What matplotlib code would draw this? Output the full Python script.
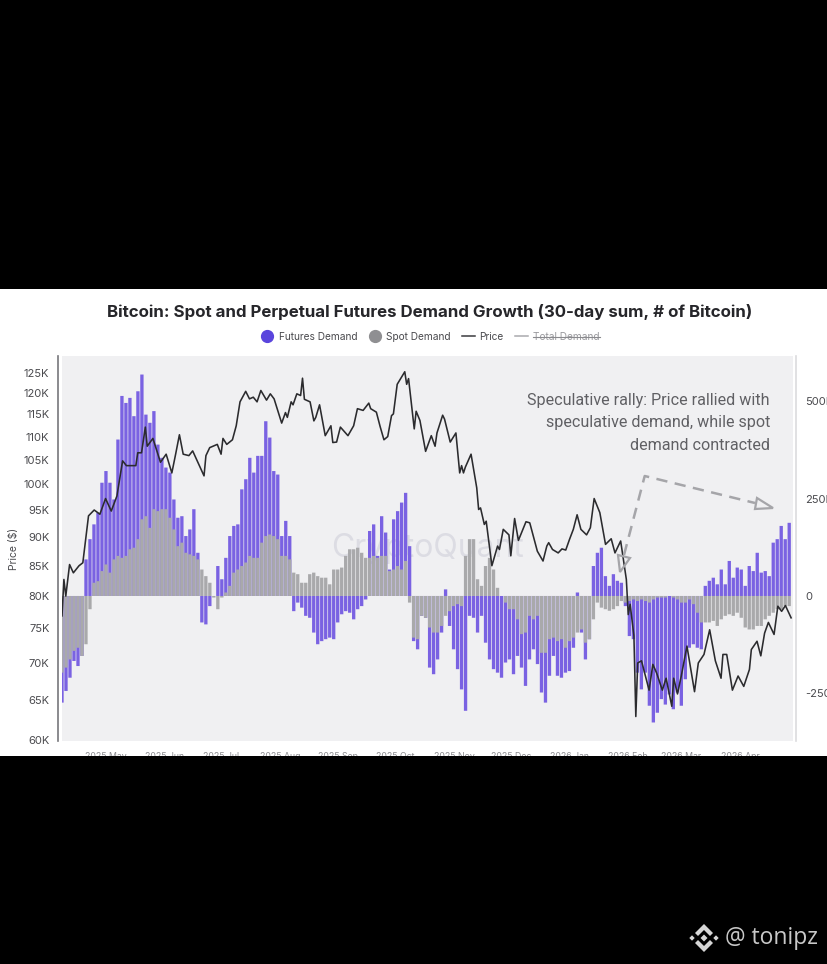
import numpy as np
import pandas as pd
import matplotlib
matplotlib.use("Agg")
import matplotlib.pyplot as plt
from matplotlib.lines import Line2D
from matplotlib.patches import Rectangle, Polygon
from matplotlib.transforms import Affine2D

plt.rcParams['font.family'] = ['Inter', 'DejaVu Sans']

title = "Bitcoin: Spot and Perpetual Futures Demand Growth (30-day sum, # of Bitcoin)"
note = "Speculative rally: Price rallied with\nspeculative demand, while spot\ndemand contracted"
series_names = ["Futures Demand", "Spot Demand", "Price", "Total Demand"]
start_date = pd.Timestamp("2025-04-08")
end_date = pd.Timestamp("2026-04-29")
bar_span_days = 384

# thousands of BTC, one reading about every two days
futures = [-274,-244,-210,-167,-180,-154,94,146,184,214,291,321,291,248,402,514,496,509,462,526,569,466,445,475,389,355,330,317,248,201,205,154,171,223,111,-68,-73,-26,0,77,43,98,154,180,184,274,300,355,317,360,360,449,407,
           321,312,154,193,154,-39,-17,-30,-51,-56,-94,-124,-116,-111,-107,-111,-68,-47,-39,-43,-60,-34,-26,-9,167,184,103,205,163,68,197,218,240,265,128,-116,-137,-51,-56,-184,-201,-163,-94,17,-77,-137,-188,-240,-295,-51,-56,-94,-51,-120,-163,-188,-197,-210,-171,-163,-201,-154,-184,-231,-163,-137,-175,-248,-274,
           -205,-154,-205,-210,-197,-193,-133,9,-94,-163,-111,77,111,124,51,26,56,39,34,-26,-103,-111,-197,-240,-197,-282,-325,-300,-265,-279,-253,-291,-248,-282,-214,-133,-124,-133,-137,26,39,47,30,68,30,90,47,73,68,26,77,64,111,60,64,51,137,146,180,146,188]
spot = [-197,-184,-163,-141,-133,-154,-124,-34,34,38,64,81,60,94,103,98,103,120,124,146,197,205,175,223,218,223,223,201,171,128,137,111,107,103,94,68,51,34,-4,-34,-4,9,26,60,68,77,86,103,98,98,137,154,
        158,154,146,103,103,94,60,56,34,34,56,60,51,47,47,30,68,68,73,103,120,120,124,111,98,98,103,98,103,103,64,68,77,68,90,-17,-107,-111,-51,-56,-81,-94,-94,-77,-51,-39,-26,-21,-26,103,146,146,43,26,77,98,68,21,0,-17,-34,-34,-60,-98,-94,-51,-60,-51,-146,-146,
        -111,-107,-116,-111,-133,-116,-107,-94,-86,-120,-111,-60,-17,-30,-34,-38,-34,-26,-13,-17,-13,-9,-13,-9,-13,-17,-9,-4,-4,-4,0,-4,-9,-17,-17,-9,-21,-43,-68,-68,-68,-64,-77,-60,-51,-47,-51,-43,-56,-81,-86,-86,-77,-77,-60,-51,-43,-34,-34,-26,-26]

price_day = [0,1,2,4,6,9,11,14,17,20,23,26,29,32,34,39,40,42,44,45,48,52,55,58,60,62,64,67,69,75,76,78,82,84,85,87,90,92,94,97,99,101,103,105,108,110,
             112,116,118,119,121,122,124,126,127,128,131,133,134,136,139,142,143,145,147,151,154,156,159,162,163,166,168,170,172,174,175,177,181,182,183,186,187,189,192,195,197,198,201,202,205,208,210,211,212,213,216,219,220,221,223,224,227,230,231,233,236,237,239,241,245,247,251,254,256,257,
             259,262,264,266,268,270,272,274,277,279,281,284,287,290,292,295,298,299,300,302,303,304,306,310,312,314,317,319,322,323,325,327,330,334,336,339,342,345,348,349,351,354,357,360,363,364,367,369,371,373,376,378,380,382,385]
price = [76.9,82.7,80,85.2,83.8,85,85.5,93.9,95,94.2,97.2,94.8,97.7,104.8,103.8,103.8,106.5,106.5,112.1,107.9,109.6,104.5,106.2,102.3,106.2,110.4,106.2,105.9,106.9,101.7,105.9,107.6,108.3,106.2,109.6,108.3,109.3,112.4,117.9,120.4,118.6,119,117.9,120.6,118.3,119.8,
         118.6,113,115.4,114.3,117.9,117.2,119.8,119.4,123.6,118.5,117.9,113.5,114.3,117.2,110.2,112.4,108.7,108.8,112.1,110.2,112.4,116.3,115.9,117.6,116.3,115.5,112.2,109.3,110,114.7,115.1,122.1,125.2,122.1,123.5,111.7,115.7,113.6,106.8,110.2,107.9,110.8,114.8,113.9,108.8,110.8,102.3,103.8,102.3,103.5,106.2,99.3,95.1,95.4,92.3,92.9,85,88.4,87.8,91.4,90.4,86.7,93.4,89.4,92.8,92.6,87.5,85.8,88.4,89,
         87.8,87.2,87.9,87.7,89.6,91.4,94.1,91.4,90.4,91.7,97.2,94.5,88.7,89.7,87.2,89.3,82.7,77.1,78.7,73.9,62.9,70,70.3,66.3,69.8,68.6,66.3,67.9,64.2,67.9,65.8,68.2,72.4,66.1,70,71.2,74.8,70.3,67.9,71.2,71.2,66.3,68.2,66.8,69.1,71.9,73.1,71,74.3,75.9,74.1,78.4,77.6,78.5,76.6]

price_ticks = [60,65,70,75,80,85,90,95,100,105,110,115,120,125]
demand_ticks = [-250,0,250,500]
month_ticks = ["2025-05-01","2025-06-01","2025-07-01","2025-08-01","2025-09-01","2025-10-01","2025-11-01","2025-12-01","2026-01-01","2026-02-01","2026-03-01","2026-04-01"]
month_labels = ["2025 May","2025 Jun","2025 Jul","2025 Aug","2025 Sep","2025 Oct","2025 Nov","2025 Dec","2026 Jan","2026 Feb","2026 Mar","2026 Apr"]

W, H = 828, 964
C_FUT_BAR, C_SPOT_BAR = "#7a62e2", "#a9a9ab"
C_FUT, C_SPOT = "#5a45dd", "#8f8f92"
TXT = "#4a4a4e"

fig = plt.figure(figsize=(W/100, H/100), dpi=100, facecolor="black")
px = Affine2D().scale(1, -1).translate(0, H)   # picture pixels, origin top left

fig.add_artist(Rectangle((0, 289), W, 467, transform=px, fc="white", ec="none", zorder=-5))

L, R, T, B = 62, 793, 356, 741
ax = fig.add_axes([L/W, 1-B/H, (R-L)/W, (B-T)/H], facecolor="#f0f0f2")
axp = ax.twinx()
ax.set_zorder(1); axp.set_zorder(2); axp.patch.set_visible(False)

bar_dates = start_date + pd.to_timedelta(np.linspace(0, bar_span_days, len(futures)), unit="D")
ax.bar(bar_dates, futures, width=1.75, color=C_FUT_BAR, linewidth=0, zorder=3, snap=False)
ax.bar(bar_dates, spot, width=1.75, color=C_SPOT_BAR, linewidth=0, zorder=4, snap=False)
ax.set_xlim(start_date, end_date)
ax.set_ylim(-372.6, 616.6)
ax.set_yticks(demand_ticks, [("%dK" % v if v else "0") for v in demand_ticks])
ax.yaxis.tick_right()
ax.tick_params(axis="y", length=0, pad=9, labelsize=8, labelcolor=TXT)
ax.set_xticks(pd.to_datetime(month_ticks), month_labels)
ax.tick_params(axis="x", length=0, pad=8, labelsize=6.3, labelcolor="#8a8a8e")
ax.text(0.50, 0.50, "CryptoQuant", transform=ax.transAxes, fontsize=23, color="#dcdce3",
        ha="center", va="center", zorder=1)

price_dates = start_date + pd.to_timedelta(price_day, unit="D")
axp.plot(price_dates, price, color="#2b2b2e", lw=1.15, zorder=5)
axp.set_yscale("log")
axp.set_ylim(59.9, 129.2)
axp.set_yticks(price_ticks, ["%dK" % v for v in price_ticks])
axp.minorticks_off()
axp.yaxis.tick_left()
axp.yaxis.set_label_position("left")
axp.tick_params(axis="y", length=0, pad=6, labelsize=8, labelcolor=TXT)
axp.set_ylabel("Price ($)", fontsize=7.5, color=TXT, labelpad=3)

for a in (ax, axp):
    for s in a.spines.values():
        s.set_visible(False)
axp.spines["left"].set_visible(True)
axp.spines["left"].set_position(("outward", 3))
axp.spines["left"].set_color("#77777b")
axp.spines["left"].set_linewidth(1.2)
axp.spines["right"].set_visible(True)
axp.spines["right"].set_position(("outward", 2))
axp.spines["right"].set_color("#dcdcde")
axp.spines["right"].set_linewidth(1.2)

fig.text(429.5/W, 1-312/H, title, fontsize=12.15, fontweight="bold", color="#26262a", ha="center", va="center")

handles = [Line2D([], [], ls="", marker="o", ms=8.5, color=C_FUT),
           Line2D([], [], ls="", marker="o", ms=8.5, color=C_SPOT),
           Line2D([], [], color="#3a3a3e", lw=1.1),
           Line2D([], [], color="#a9a9ad", lw=1.1)]
leg = fig.legend(handles, series_names, ncol=4, loc="center", bbox_to_anchor=(430/W, 1-336.5/H),
                 frameon=False, fontsize=7.3, handlelength=1.3, handletextpad=0.45, columnspacing=1.1,
                 labelcolor=TXT, borderpad=0)
leg.get_texts()[3].set_color("#9a9a9e")
fig.add_artist(Line2D([533, 600], [336.5, 336.5], transform=px, color="#8a8a8e", lw=0.8, zorder=6))

fig.text(770/W, 1-423/H, note, fontsize=11.6, color="#606064", ha="right", va="center",
         fontfamily="Roboto", linespacing=1.65, zorder=6)

dash = dict(color="#a5a5a9", lw=1.8, ls=(0, (4.5, 3)), zorder=6)
fig.add_artist(Line2D([624, 644.7, 755], [555, 476, 503], transform=px, **dash))
for tri in ([(618, 555), (630, 558), (620, 572)], [(757, 498), (773, 508), (755, 509)]):
    fig.add_artist(Polygon(tri, closed=True, transform=px, fc="none", ec="#a5a5a9", lw=1.6, zorder=6))

fig.add_artist(Rectangle((0, 756), W, H-756, transform=px, fc="black", ec="none", zorder=8))

cx, cy = 704, 938
LOGO = "#d6d6d6"
for s in (-1, 1):
    chevron = [(cx, cy+s*14), (cx+9, cy+s*5), (cx+6, cy+s*2), (cx, cy+s*8), (cx-6, cy+s*2), (cx-9, cy+s*5)]
    fig.add_artist(Polygon(chevron, closed=True, transform=px, fc=LOGO, ec="none", zorder=9))
for dx, r in [(0, 3.5), (-12, 2.7), (12, 2.7)]:
    fig.add_artist(Polygon([(cx+dx-r, cy), (cx+dx, cy-r), (cx+dx+r, cy), (cx+dx, cy+r)],
                           closed=True, transform=px, fc=LOGO, ec="none", zorder=9))
fig.text(725/W, 1-938/H, "@ tonipz", fontsize=16.5, color="#c8c8c8", fontfamily="Open Sans",
         ha="left", va="center", zorder=9)

fig.savefig("out.png", dpi=100, facecolor="black")
